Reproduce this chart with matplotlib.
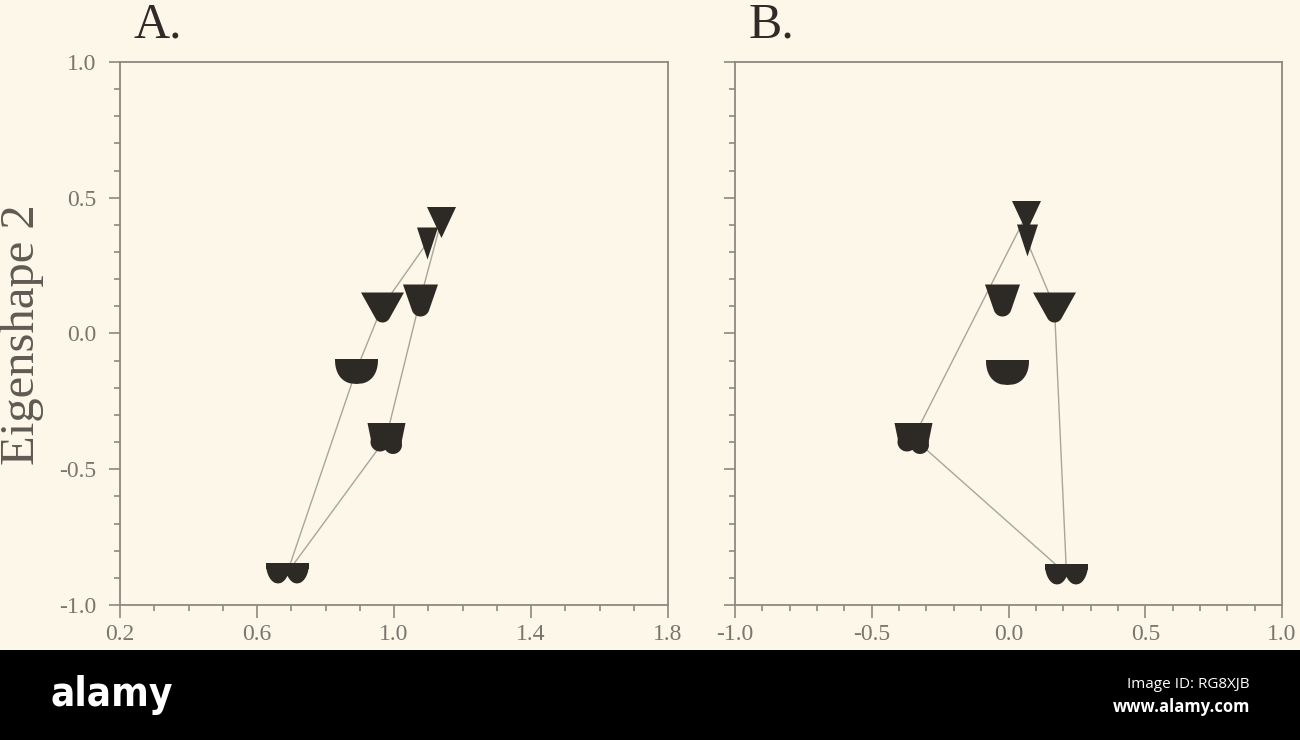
import numpy as np
import matplotlib.pyplot as plt
from matplotlib.path import Path
from matplotlib.patches import Rectangle
from matplotlib.ticker import MultipleLocator, FixedLocator

plt.rcParams['axes.unicode_minus'] = False
plt.rcParams['font.family'] = ['Liberation Serif', 'DejaVu Serif']

# one outline per specimen, same order in both panels
shapes = ['tri_large', 'tri_small', 'round_narrow', 'round_wide', 'bowl', 'notch', 'double']

# panel A: eigenshape 1 against eigenshape 2
eig1_a = [1.137, 1.096, 1.076, 0.965, 0.889, 0.977, 0.688]
eig2_a = [0.410, 0.333, 0.123, 0.098, -0.138, -0.385, -0.882]

# panel B: eigenshape 3 against eigenshape 2
eig3_b = [0.064, 0.066, -0.022, 0.168, -0.007, -0.348, 0.212]
eig2_b = [0.433, 0.344, 0.123, 0.098, -0.142, -0.385, -0.886]

# order in which the thin line joins the specimens
link_a = [0, 1, 3, 4, 6, 5, 2, 0]
link_b = [0, 5, 6, 3, 1, 0]

xticks_a = [0.2, 0.6, 1.0, 1.4, 1.8]
xticks_b = [-1.0, -0.5, 0.0, 0.5, 1.0]
yticks = [-1.0, -0.5, 0.0, 0.5, 1.0]

DPI = 100
bg = '#fcf7e8'
ink = '#2d2925'
axis_col = '#8c8980'
text_col = '#7a766e'


# ---- marker outlines, drawn in pixel units, centred on their box ----
# all outlines run clockwise so overlapping pieces fill as one shape
def closed(verts):
    verts = np.vstack([verts, verts[:1]])
    codes = [Path.MOVETO] + [Path.LINETO] * (len(verts) - 2) + [Path.CLOSEPOLY]
    return Path(verts, codes)


def cup(w, h, p, dx=0.0, dy=0.0, n=40):
    # flat top, rounded bottom: p=1 is a triangle, p=2 half an ellipse
    t = np.linspace(0, 1, n)
    half = w / 2 * (1 - t ** p) ** (1 / p)
    y = h / 2 - t * h
    xs = np.concatenate([half, -half[::-1]]) + dx
    ys = np.concatenate([y, y[::-1]]) + dy
    return closed(np.column_stack([xs, ys]))


def rounded_v(w, h, r, n=30):
    # flat top, straight sides, tip rounded off with radius r
    c = np.array([0.0, -h / 2 + r])
    d = np.array([w / 2, h / 2]) - c
    L = np.hypot(*d)
    beta = np.arccos(r / L)
    ang0 = np.arctan2(d[1], d[0]) - beta
    arc = np.linspace(ang0, -np.pi - ang0, n)
    pts = [(-w / 2, h / 2), (w / 2, h / 2)]
    pts += [(c[0] + r * np.cos(a), c[1] + r * np.sin(a)) for a in arc]
    return closed(np.array(pts))


def box(*xy):
    return closed(np.array(xy, dtype=float).reshape(-1, 2))


def circle(cx, cy, r, n=40):
    a = np.linspace(0, -2 * np.pi, n, endpoint=False)
    return closed(np.column_stack([cx + r * np.cos(a), cy + r * np.sin(a)]))


outlines = {
    'tri_large': cup(29, 31, 1.0),
    'tri_small': cup(21, 32, 1.0),
    'round_narrow': rounded_v(35, 32, 9),
    'round_wide': rounded_v(43, 30, 8),
    'bowl': cup(43, 25, 2.3),
    'notch': Path.make_compound_path(
        box(-19, 15.5, 19, 15.5, 15, -4, -15, -4),
        circle(-6.5, -3.5, 9.5),
        circle(6.5, -6.5, 9)),
    'double': Path.make_compound_path(
        box(-21.5, 10, 21.5, 10, 21.5, 5, -21.5, 5),
        cup(24, 20, 2.0, dx=-9.5),
        cup(24, 20, 2.0, dx=9.5)),
}


def marker_size(path):
    # matplotlib scales a path marker so its largest |vertex| is half the size
    m = np.max(np.abs(path.vertices))
    return 2 * m * 72 / DPI


fig = plt.figure(figsize=(13, 7.4), dpi=DPI, facecolor=bg)

ax_a = fig.add_axes([120 / 1300, 1 - 605 / 740, 548 / 1300, 543 / 740])
ax_b = fig.add_axes([735 / 1300, 1 - 605 / 740, 547 / 1300, 543 / 740])

panels = [
    (ax_a, eig1_a, eig2_a, link_a, (0.2, 1.8), xticks_a, True),
    (ax_b, eig3_b, eig2_b, link_b, (-1.0, 1.0), xticks_b, False),
]

for ax, xs, ys, link, xlim, xticks, ylabels in panels:
    ax.set_facecolor(bg)
    ax.plot([xs[i] for i in link], [ys[i] for i in link],
            color='#aaa59a', lw=1.0, zorder=2)
    for x, y, s in zip(xs, ys, shapes):
        ax.plot(x, y, linestyle='none', marker=outlines[s], ms=marker_size(outlines[s]),
                color=ink, mec='none', zorder=3)

    ax.set_xlim(*xlim)
    ax.set_ylim(-1.0, 1.0)
    ax.xaxis.set_major_locator(FixedLocator(xticks))
    ax.xaxis.set_minor_locator(MultipleLocator(0.1))
    ax.yaxis.set_major_locator(FixedLocator(yticks))
    ax.yaxis.set_minor_locator(MultipleLocator(0.1))
    ax.set_xticklabels(['%.1f' % v for v in xticks])
    if ylabels:
        ax.set_yticklabels(['%.1f' % v for v in yticks])
    else:
        ax.set_yticklabels([])

    for sp in ax.spines.values():
        sp.set_color(axis_col)
        sp.set_linewidth(1.3)
    ax.tick_params(which='both', direction='out', color=axis_col, width=1.2,
                   top=False, right=False)
    ax.tick_params(which='major', length=9, labelsize=17, labelcolor=text_col, pad=5)
    ax.tick_params(axis='y', which='major', length=8, pad=9)
    ax.tick_params(which='minor', length=4.5)

fig.text(22 / 1300, 1 - 335 / 740, 'Eigenshape 2', rotation=90, ha='center', va='center',
         fontsize=35, color='#5e5a54')
fig.text(133 / 1300, 1 - 37 / 740, 'A.', fontsize=36, color='#2e2b28', va='baseline')
fig.text(749 / 1300, 1 - 37 / 740, 'B.', fontsize=36, color='#2e2b28', va='baseline')

# dark strip along the bottom of the scan
fig.patches.append(Rectangle((0, 0), 1, 90 / 740, transform=fig.transFigure,
                             facecolor='black', edgecolor='none', zorder=5))
fig.text(50 / 1300, 1 - 706 / 740, 'alamy', fontsize=29, fontweight='bold', color='white',
         family=['DejaVu Sans'], fontstretch='condensed', va='baseline', zorder=6)
fig.text(1250 / 1300, 1 - 688 / 740, 'Image ID: RG8XJB', fontsize=11, color='white',
         family=['Open Sans', 'DejaVu Sans'], ha='right', va='baseline', zorder=6)
fig.text(1250 / 1300, 1 - 712 / 740, 'www.alamy.com', fontsize=12, fontweight='bold',
         color='white', family=['Open Sans', 'DejaVu Sans'], ha='right', va='baseline', zorder=6)

fig.savefig('out.png', dpi=DPI, facecolor=bg)
